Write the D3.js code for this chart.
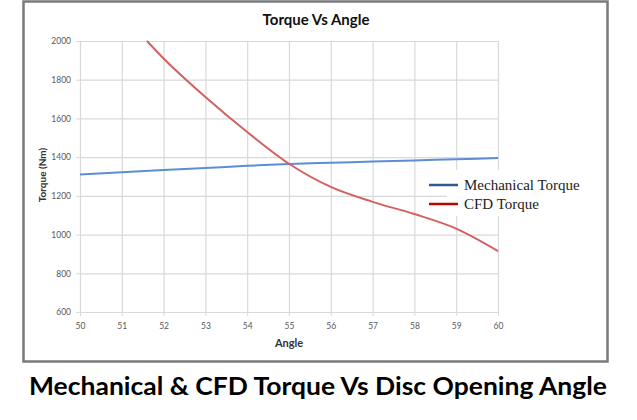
<!DOCTYPE html>
<html>
<head>
<meta charset="utf-8">
<script src="https://cdn.jsdelivr.net/npm/d3@7"></script>
<style>
  body { margin: 0; background: #fff; }
  svg { display: block; }
</style>
</head>
<body>
<div id="chart"></div>
<script>
// values
var angles = [50, 51, 52, 53, 54, 55, 56, 57, 58, 59, 60];
var mechTorque = [1310, 1322, 1333, 1344, 1355, 1365, 1371, 1377, 1383, 1389, 1395];
var cfdAngles = [51.6, 52, 53, 54, 55, 56, 57, 58, 59, 60];
var cfdTorque = [2000, 1910, 1711, 1530, 1366, 1246, 1169, 1106, 1031, 915];
var yTicks = [600, 800, 1000, 1200, 1400, 1600, 1800, 2000];
var xTicks = [50, 51, 52, 53, 54, 55, 56, 57, 58, 59, 60];
var legendNames = ["Mechanical Torque", "CFD Torque"];

var W = 637, H = 420;
var svg = d3.select("#chart").append("svg").attr("width", W).attr("height", H);

// outer frame of the chart
svg.append("rect")
    .attr("x", 23.5).attr("y", 1.5).attr("width", 584).attr("height", 360)
    .attr("fill", "#fff").attr("stroke", "#7a7a7a").attr("stroke-width", 2.5);

var x = d3.scaleLinear().domain([50, 60]).range([80, 498]);
var y = d3.scaleLinear().domain([600, 2000]).range([312, 41]);

// grid + axes
var yAxis = svg.append("g").attr("transform", "translate(80,0)")
    .call(d3.axisLeft(y).tickValues(yTicks).tickFormat(d3.format("d"))
        .tickSize(-418).tickPadding(9).tickSizeOuter(0));
var xAxis = svg.append("g").attr("transform", "translate(0,312)")
    .call(d3.axisBottom(x).tickValues(xTicks).tickFormat(d3.format("d"))
        .tickSize(-271).tickPadding(9).tickSizeOuter(0));
[yAxis, xAxis].forEach(function(a) {
    a.select(".domain").remove();
    a.selectAll("line").attr("stroke", "#d9d9d9").attr("stroke-width", 1.2);
    a.selectAll("text").attr("fill", "#595959")
        .style("font-family", "Lato, sans-serif").style("font-size", "8.5px");
});
// small tick extensions outside plot
yAxis.selectAll(".tick").append("line").attr("x1", -4).attr("x2", 0).attr("stroke", "#d9d9d9");
xAxis.selectAll(".tick").append("line").attr("y1", 0).attr("y2", 4).attr("stroke", "#d9d9d9");
xAxis.selectAll("text").attr("dy", "0.9em");

svg.append("clipPath").attr("id", "plotclip").append("rect")
    .attr("x", 80).attr("y", 40).attr("width", 420).attr("height", 274);

var line = d3.line().curve(d3.curveMonotoneX)
    .x(function(d) { return x(d[0]); }).y(function(d) { return y(d[1]); });

svg.append("path")
    .datum(angles.map(function(a, i) { return [a, mechTorque[i]]; }))
    .attr("d", line).attr("fill", "none")
    .attr("stroke", "#5b8ed6").attr("stroke-width", 2)
    .attr("clip-path", "url(#plotclip)");

svg.append("path")
    .datum(cfdAngles.map(function(a, i) { return [a, cfdTorque[i]]; }))
    .attr("d", line).attr("fill", "none")
    .attr("stroke", "#d2615f").attr("stroke-width", 2)
    .attr("clip-path", "url(#plotclip)");

// titles
svg.append("text").attr("x", 316).attr("y", 25).attr("text-anchor", "middle")
    .style("font-family", "Lato, sans-serif").style("font-weight", "bold").style("font-size", "15px")
    .attr("fill", "#111").text("Torque Vs Angle");

svg.append("text").attr("x", 289).attr("y", 347).attr("text-anchor", "middle")
    .style("font-family", "Lato, sans-serif").style("font-weight", "bold").style("font-size", "11px")
    .attr("fill", "#333").text("Angle");

svg.append("text").attr("transform", "translate(46,175) rotate(-90)").attr("text-anchor", "middle")
    .style("font-family", "Lato, sans-serif").style("font-weight", "bold").style("font-size", "10px")
    .attr("fill", "#333").text("Torque (Nm)");

// legend (pasted box with white background)
svg.append("rect").attr("x", 447).attr("y", 170).attr("width", 155).attr("height", 46).attr("fill", "#fff");
var legColors = ["#2f5a92", "#c00000"];
var leg = svg.selectAll(".leg").data(legendNames).enter().append("g")
    .attr("transform", function(d, i) { return "translate(429," + (185 + i * 19) + ")"; });
leg.append("line").attr("x1", 0).attr("x2", 29).attr("stroke", function(d, i) { return legColors[i]; })
    .attr("stroke-width", 2.5);
leg.append("text").attr("x", 35).attr("y", 5)
    .style("font-family", "'Liberation Serif', serif").style("font-size", "15px")
    .attr("fill", "#222").text(function(d) { return d; });

// caption below the chart
svg.append("text").attr("x", 318).attr("y", 395).attr("text-anchor", "middle")
    .attr("textLength", 578).attr("lengthAdjust", "spacingAndGlyphs")
    .style("font-family", "Lato, sans-serif").style("font-weight", "bold").style("font-size", "25px")
    .attr("fill", "#000").text("Mechanical & CFD Torque Vs Disc Opening Angle");
</script>
</body>
</html>
